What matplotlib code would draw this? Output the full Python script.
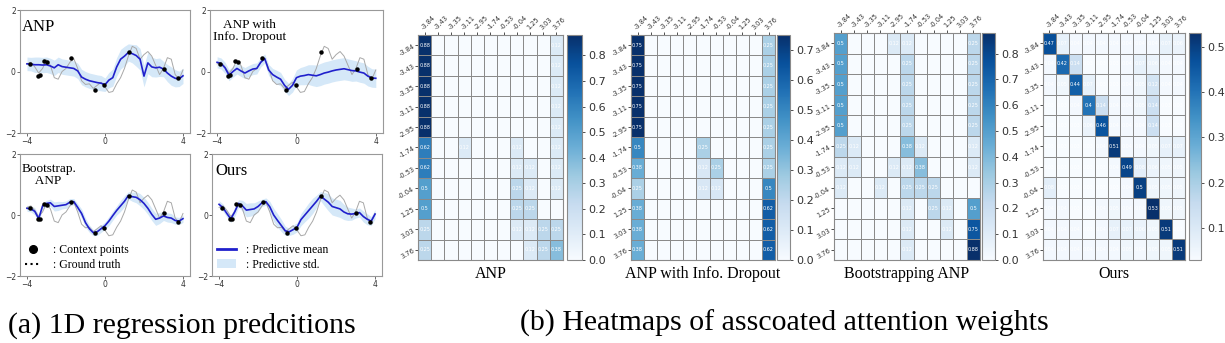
import numpy as np
import matplotlib
matplotlib.use('Agg')
import matplotlib.pyplot as plt
from matplotlib.lines import Line2D
from matplotlib.patches import Patch

SERIF = ["Liberation Serif", "DejaVu Serif"]

# ---- 1D regression data ----
x_grid = [-4.0, -3.8, -3.6, -3.4, -3.2, -3.0, -2.8, -2.6, -2.4, -2.2, -2.0,
          -1.8, -1.6, -1.4, -1.2, -1.0, -0.8, -0.6, -0.4, -0.2, 0.0,
          0.2, 0.4, 0.6, 0.8, 1.0, 1.2, 1.4, 1.6, 1.8, 2.0,
          2.2, 2.4, 2.6, 2.8, 3.0, 3.2, 3.4, 3.6, 3.8, 4.0]

ground_truth = [0.25, 0.30, 0.15, -0.05, 0.10, 0.38, 0.20, -0.20, -0.25, 0.00, 0.10,
                0.30, 0.42, 0.10, -0.30, -0.42, -0.40, -0.55, -0.45, -0.35, -0.50,
                -0.68, -0.65, -0.40, -0.20, 0.10, 0.50, 0.82, 0.75, 0.40, 0.55,
                0.65, 0.50, 0.20, -0.10, 0.10, 0.45, 0.40, -0.10, -0.25, 0.05]

context_x = [-3.84, -3.43, -3.35, -3.11, -2.95, -1.74, -0.53, -0.04, 1.25, 3.03, 3.76]
context_y = [0.23, -0.13, -0.12, 0.35, 0.32, 0.43, -0.60, -0.43, 0.62, 0.08, -0.22]

mean_anp = [0.25, 0.24, 0.22, 0.22, 0.21, 0.22, 0.18, 0.12, 0.22, 0.16, 0.14,
            0.12, 0.10, 0.02, -0.18, -0.25, -0.30, -0.33, -0.36, -0.38, -0.43,
            -0.28, -0.20, 0.15, 0.40, 0.50, 0.62, 0.58, 0.52, 0.40, -0.15,
            0.28, 0.15, 0.12, 0.14, 0.08, -0.05, -0.15, -0.22, -0.24, -0.14]
std_anp = [0.22, 0.22, 0.25, 0.25, 0.25, 0.25, 0.25, 0.25, 0.25, 0.25, 0.25,
           0.25, 0.25, 0.25, 0.25, 0.25, 0.25, 0.25, 0.25, 0.25, 0.22,
           0.25, 0.28, 0.30, 0.32, 0.32, 0.28, 0.30, 0.35, 0.35, 0.35,
           0.35, 0.32, 0.30, 0.30, 0.25, 0.28, 0.30, 0.28, 0.25, 0.25]

mean_info = [0.30, 0.26, 0.12, -0.12, 0.00, 0.10, 0.02, -0.05, 0.02, 0.08, 0.10,
             0.30, 0.42, 0.05, -0.10, -0.18, -0.25, -0.45, -0.58, -0.45, -0.20,
             -0.15, -0.13, -0.10, -0.12, -0.14, -0.10, -0.05, -0.02, 0.02, 0.05,
             0.07, 0.09, 0.06, 0.03, 0.02, -0.02, -0.05, -0.15, -0.21, -0.22]
std_info = [0.18, 0.18, 0.18, 0.18, 0.18, 0.18, 0.18, 0.18, 0.18, 0.18, 0.18,
            0.15, 0.15, 0.18, 0.20, 0.22, 0.22, 0.20, 0.20, 0.22, 0.25,
            0.28, 0.30, 0.32, 0.34, 0.35, 0.36, 0.36, 0.36, 0.36, 0.36,
            0.36, 0.36, 0.35, 0.35, 0.33, 0.33, 0.33, 0.32, 0.30, 0.30]

mean_boot = [0.22, 0.20, 0.12, -0.12, 0.30, 0.38, 0.40, 0.28, 0.30, 0.32, 0.34,
             0.42, 0.44, 0.25, 0.05, -0.25, -0.45, -0.58, -0.55, -0.45, -0.35,
             -0.20, -0.02, 0.15, 0.30, 0.45, 0.64, 0.60, 0.58, 0.50, 0.38,
             0.22, 0.02, -0.14, -0.10, -0.03, -0.08, -0.10, -0.18, -0.20, -0.12]
std_boot = [0.10, 0.10, 0.12, 0.12, 0.10, 0.10, 0.12, 0.15, 0.15, 0.12, 0.12,
            0.12, 0.10, 0.12, 0.15, 0.15, 0.12, 0.10, 0.12, 0.12, 0.12,
            0.15, 0.15, 0.15, 0.18, 0.18, 0.12, 0.15, 0.18, 0.20, 0.20,
            0.20, 0.20, 0.20, 0.18, 0.15, 0.15, 0.15, 0.12, 0.12, 0.12]

mean_ours = [0.35, 0.24, 0.05, -0.13, 0.10, 0.38, 0.30, 0.16, 0.18, 0.20, 0.28,
             0.40, 0.44, 0.27, 0.00, -0.18, -0.35, -0.52, -0.55, -0.48, -0.40,
             -0.15, 0.00, 0.15, 0.30, 0.45, 0.62, 0.52, 0.42, 0.28, 0.24,
             0.20, 0.10, 0.04, 0.03, 0.05, 0.08, -0.05, -0.14, -0.20, 0.03]
std_ours = [0.12, 0.12, 0.12, 0.12, 0.15, 0.12, 0.18, 0.22, 0.22, 0.20, 0.18,
            0.12, 0.12, 0.18, 0.22, 0.22, 0.20, 0.15, 0.12, 0.15, 0.15,
            0.20, 0.22, 0.25, 0.25, 0.20, 0.15, 0.22, 0.28, 0.28, 0.28,
            0.28, 0.25, 0.22, 0.20, 0.15, 0.15, 0.18, 0.18, 0.15, 0.15]

# ---- attention heatmaps ----
key_labels = ["-3.84", "-3.43", "-3.35", "-3.11", "-2.95", "-1.74",
              "-0.53", "-0.04", "1.25", "3.03", "3.76"]

att_anp = [
    [0.88, 0, 0, 0, 0, 0, 0, 0, 0, 0, 0.12],
    [0.88, 0, 0, 0, 0, 0, 0, 0, 0, 0, 0.12],
    [0.88, 0, 0, 0, 0, 0, 0, 0, 0, 0, 0.12],
    [0.88, 0, 0, 0, 0, 0, 0, 0, 0, 0, 0.12],
    [0.88, 0, 0, 0, 0, 0, 0, 0, 0, 0, 0.12],
    [0.62, 0, 0, 0.12, 0, 0, 0, 0.12, 0, 0, 0.12],
    [0.62, 0, 0, 0, 0, 0, 0, 0.12, 0.12, 0, 0.12],
    [0.5, 0, 0, 0, 0, 0, 0, 0.25, 0.12, 0, 0.12],
    [0.5, 0, 0, 0, 0, 0, 0, 0.25, 0.25, 0, 0],
    [0.25, 0, 0, 0, 0, 0, 0, 0.12, 0.12, 0.25, 0.25],
    [0.25, 0, 0, 0, 0, 0, 0, 0, 0.12, 0.25, 0.38],
]

att_info = [
    [0.75, 0, 0, 0, 0, 0, 0, 0, 0, 0, 0.25],
    [0.75, 0, 0, 0, 0, 0, 0, 0, 0, 0, 0.25],
    [0.75, 0, 0, 0, 0, 0, 0, 0, 0, 0, 0.25],
    [0.75, 0, 0, 0, 0, 0, 0, 0, 0, 0, 0.25],
    [0.75, 0, 0, 0, 0, 0, 0, 0, 0, 0, 0.25],
    [0.5, 0, 0, 0, 0, 0.25, 0, 0, 0, 0, 0.25],
    [0.38, 0, 0, 0, 0, 0.12, 0.25, 0, 0, 0, 0.25],
    [0.25, 0, 0, 0, 0, 0.12, 0.12, 0, 0, 0, 0.5],
    [0.38, 0, 0, 0, 0, 0, 0, 0, 0, 0, 0.62],
    [0.38, 0, 0, 0, 0, 0, 0, 0, 0, 0, 0.62],
    [0.38, 0, 0, 0, 0, 0, 0, 0, 0, 0, 0.62],
]

att_boot = [
    [0.5, 0, 0, 0, 0.12, 0.12, 0, 0, 0, 0, 0.25],
    [0.5, 0, 0, 0, 0, 0.25, 0, 0, 0, 0, 0.25],
    [0.5, 0, 0, 0, 0, 0.25, 0, 0, 0, 0, 0.25],
    [0.5, 0, 0, 0, 0, 0.25, 0, 0, 0, 0, 0.25],
    [0.5, 0, 0, 0, 0, 0.25, 0, 0, 0, 0, 0.25],
    [0.25, 0.12, 0, 0, 0, 0.38, 0.12, 0, 0, 0, 0.12],
    [0.12, 0.12, 0, 0, 0.12, 0.12, 0.38, 0, 0, 0, 0.12],
    [0.12, 0, 0, 0.12, 0, 0.25, 0.25, 0.25, 0, 0, 0],
    [0, 0, 0, 0, 0, 0.12, 0, 0.25, 0.12, 0, 0.5],
    [0, 0, 0, 0, 0, 0.12, 0, 0, 0.12, 0, 0.75],
    [0, 0, 0, 0, 0, 0.12, 0, 0, 0, 0, 0.88],
]

att_ours = [
    [0.47, 0.07, 0.04, 0.04, 0.04, 0.04, 0.04, 0.04, 0.04, 0.07, 0.06],
    [0.04, 0.42, 0.14, 0.03, 0.03, 0.03, 0.04, 0.07, 0.06, 0.04, 0.04],
    [0.04, 0.05, 0.44, 0.07, 0.03, 0.03, 0.04, 0.05, 0.12, 0.04, 0.04],
    [0.03, 0.03, 0.04, 0.40, 0.14, 0.04, 0.04, 0.05, 0.14, 0.03, 0.03],
    [0.03, 0.03, 0.03, 0.06, 0.46, 0.04, 0.04, 0.04, 0.14, 0.03, 0.03],
    [0.03, 0.03, 0.03, 0.03, 0.04, 0.51, 0.04, 0.04, 0.05, 0.07, 0.07],
    [0.03, 0.03, 0.03, 0.03, 0.03, 0.04, 0.49, 0.08, 0.06, 0.05, 0.05],
    [0.08, 0.03, 0.03, 0.03, 0.03, 0.03, 0.04, 0.50, 0.05, 0.05, 0.05],
    [0.04, 0.04, 0.03, 0.03, 0.04, 0.05, 0.04, 0.04, 0.53, 0.05, 0.05],
    [0.04, 0.04, 0.04, 0.03, 0.04, 0.07, 0.07, 0.06, 0.05, 0.51, 0.03],
    [0.04, 0.04, 0.04, 0.04, 0.04, 0.04, 0.05, 0.04, 0.05, 0.05, 0.51],
]

MEAN_COLOR = "#2020cc"
BAND_COLOR = "#d5e8f8"


def draw_regression(ax, mean, std, title, title_xy, title_size, title_ha="left"):
    m = np.array(mean)
    s = np.array(std)
    ax.fill_between(x_grid, m - s, m + s, color=BAND_COLOR, lw=0)
    ax.plot(x_grid, ground_truth, color="#a8a8a8", lw=0.7)
    ax.plot(x_grid, mean, color=MEAN_COLOR, lw=1.2)
    ax.plot(context_x, context_y, "o", color="black", ms=2.2)
    ax.set_xlim(-4.36, 4.36)
    ax.set_ylim(-2, 2)
    ax.set_xticks([-4, 0, 4])
    ax.set_yticks([-2, 0, 2])
    ax.tick_params(labelsize=5.5, length=2, width=0.5, colors="#333333", pad=1)
    for sp in ax.spines.values():
        sp.set_color("#999999")
        sp.set_linewidth(0.8)
    ax.text(title_xy[0], title_xy[1], title, transform=ax.transAxes,
            family=SERIF, fontsize=title_size, ha=title_ha, va="top",
            linespacing=1.0)


def draw_heatmap(ax, cax, data, title, vmin, vmax, cticks):
    arr = np.array(data)
    mesh = ax.pcolormesh(arr, cmap="Blues", vmin=vmin, vmax=vmax,
                         edgecolors="#8a8a8a", linewidth=0.6)
    ax.set_xlim(0, 11)
    ax.set_ylim(11, 0)
    ax.xaxis.tick_top()
    ax.set_xticks(np.arange(11) + 0.5)
    ax.set_yticks(np.arange(11) + 0.5)
    ax.set_xticklabels(key_labels, rotation=45, ha="left", rotation_mode="anchor")
    ax.set_yticklabels(key_labels, rotation=30, ha="right", rotation_mode="anchor")
    ax.tick_params(labelsize=4.8, length=2, width=0.6, colors="#333333", pad=1)
    for sp in ax.spines.values():
        sp.set_color("#8a8a8a")
        sp.set_linewidth(0.8)
    for i in range(arr.shape[0]):
        for j in range(arr.shape[1]):
            v = arr[i, j]
            if v <= 0:
                continue
            ax.text(j + 0.5, i + 0.5, f"{v:.2g}", ha="center", va="center",
                    fontsize=3.5, color="white")
    cb = plt.gcf().colorbar(mesh, cax=cax)
    cb.set_ticks(cticks)
    cb.ax.tick_params(labelsize=8, length=2.5, width=0.6, colors="#333333", pad=2)
    cb.outline.set_edgecolor("#8a8a8a")
    cb.outline.set_linewidth(0.8)
    ax.text(0.5, -0.025, title, transform=ax.transAxes, ha="center", va="top",
            family=SERIF, fontsize=11.5)


fig = plt.figure(figsize=(12.25, 3.43), dpi=100)

ax_tl = fig.add_axes([0.0163, 0.6122, 0.1388, 0.3586])
ax_tr = fig.add_axes([0.1714, 0.6122, 0.1412, 0.3586])
ax_bl = fig.add_axes([0.0163, 0.1953, 0.1388, 0.3557])
ax_br = fig.add_axes([0.1731, 0.1953, 0.1388, 0.3557])

draw_regression(ax_tl, mean_anp, std_anp, "ANP", (0.01, 0.93), 12)
draw_regression(ax_tr, mean_info, std_info, "ANP with\nInfo. Dropout", (0.23, 0.93), 9.5, "center")
draw_regression(ax_bl, mean_boot, std_boot, "Bootstrap.\n    ANP", (0.01, 0.93), 9.5)
draw_regression(ax_br, mean_ours, std_ours, "Ours", (0.02, 0.93), 12)

leg_a = [Line2D([], [], marker="o", color="black", ls="none", ms=5.5),
         Line2D([], [], color="black", ls=":", lw=1.5)]
ax_bl.legend(leg_a, [": Context points", ": Ground truth"], loc="lower left",
             frameon=False, prop={"family": SERIF, "size": 8.5},
             handlelength=1.35, handletextpad=1.0, borderaxespad=0.25,
             borderpad=0.2, labelspacing=0.25)
leg_b = [Line2D([], [], color=MEAN_COLOR, lw=2),
         Patch(facecolor=BAND_COLOR, edgecolor="none")]
ax_br.legend(leg_b, [": Predictive mean", ": Predictive std."], loc="lower left",
             frameon=False, prop={"family": SERIF, "size": 8.5},
             handlelength=1.6, handletextpad=0.85, borderaxespad=0.25,
             borderpad=0.2, labelspacing=0.25)

# heatmaps
ax1 = fig.add_axes([0.3412, 0.2420, 0.1184, 0.6560])
cax1 = fig.add_axes([0.4629, 0.2420, 0.0122, 0.6560])
draw_heatmap(ax1, cax1, att_anp, "ANP", 0.0, 0.88, [0.0, 0.1, 0.2, 0.3, 0.4, 0.5, 0.6, 0.7, 0.8])

ax2 = fig.add_axes([0.5151, 0.2420, 0.1176, 0.6560])
cax2 = fig.add_axes([0.6343, 0.2420, 0.0106, 0.6560])
draw_heatmap(ax2, cax2, att_info, "ANP with Info. Dropout", 0.0, 0.75, [0.0, 0.1, 0.2, 0.3, 0.4, 0.5, 0.6, 0.7])

ax3 = fig.add_axes([0.6808, 0.2420, 0.1192, 0.6620])
cax3 = fig.add_axes([0.8016, 0.2420, 0.0106, 0.6620])
draw_heatmap(ax3, cax3, att_boot, "Bootstrapping ANP", 0.0, 0.88, [0.0, 0.1, 0.2, 0.3, 0.4, 0.5, 0.6, 0.7, 0.8])

ax4 = fig.add_axes([0.8514, 0.2420, 0.1159, 0.6620])
cax4 = fig.add_axes([0.9706, 0.2420, 0.0098, 0.6620])
draw_heatmap(ax4, cax4, att_ours, "Ours", 0.03, 0.53, [0.1, 0.2, 0.3, 0.4, 0.5])

fig.text(0.0065, 0.03, "(a) 1D regression predcitions", family=SERIF, fontsize=21.5, va="baseline")
fig.text(0.4245, 0.035, "(b) Heatmaps of asscoated attention weights", family=SERIF, fontsize=21.5, va="baseline")

fig.savefig("out.png", dpi=100)
